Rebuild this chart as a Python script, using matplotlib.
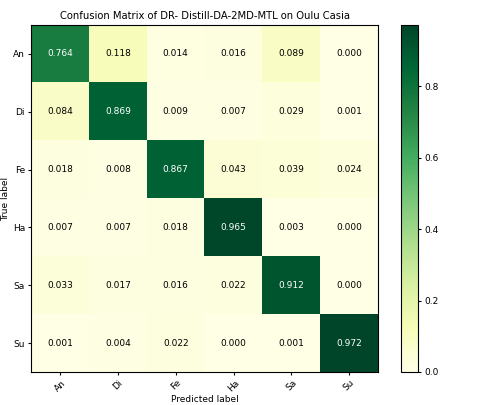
import matplotlib
matplotlib.use("Agg")
import matplotlib.pyplot as plt
import numpy as np

classes = ["An", "Di", "Fe", "Ha", "Sa", "Su"]
row_an = [0.764, 0.118, 0.014, 0.016, 0.089, 0.000]
row_di = [0.084, 0.869, 0.009, 0.007, 0.029, 0.001]
row_fe = [0.018, 0.008, 0.867, 0.043, 0.039, 0.024]
row_ha = [0.007, 0.007, 0.018, 0.965, 0.003, 0.000]
row_sa = [0.033, 0.017, 0.016, 0.022, 0.912, 0.000]
row_su = [0.001, 0.004, 0.022, 0.000, 0.001, 0.972]
title = "Confusion Matrix of DR- Distill-DA-2MD-MTL on Oulu Casia"

cm = np.array([row_an, row_di, row_fe, row_ha, row_sa, row_su])

fig = plt.figure(figsize=(4.8, 4.05), dpi=100)
ax = fig.add_axes([0.065, 0.0815, 0.7225, 0.857])
cax = fig.add_axes([0.835, 0.0815, 0.036, 0.857])
im = ax.imshow(cm, interpolation="nearest", cmap="YlGn", aspect="auto")
cb = fig.colorbar(im, cax=cax)
cb.ax.tick_params(labelsize=6.5, length=2.5, pad=2, width=0.8)
cb.outline.set_linewidth(0.8)
ax.set_title(title, fontsize=7.2, pad=4)
ticks = np.arange(len(classes))
ax.set_xticks(ticks)
ax.set_xticklabels(classes, rotation=45, fontsize=6.5)
ax.set_yticks(ticks)
ax.set_yticklabels(classes, fontsize=6.5)
ax.tick_params(length=2.5, pad=2, width=0.8)
for s in ax.spines.values():
    s.set_linewidth(0.8)
thresh = cm.max() / 2.0
for i in range(cm.shape[0]):
    for j in range(cm.shape[1]):
        ax.text(j, i, format(cm[i, j], ".3f"), ha="center", va="center",
                fontsize=6.5, color="white" if cm[i, j] > thresh else "black")
ax.set_ylabel("True label", fontsize=6.5, labelpad=2)
ax.set_xlabel("Predicted label", fontsize=6.5, labelpad=1)
fig.savefig("out.png", dpi=100)
